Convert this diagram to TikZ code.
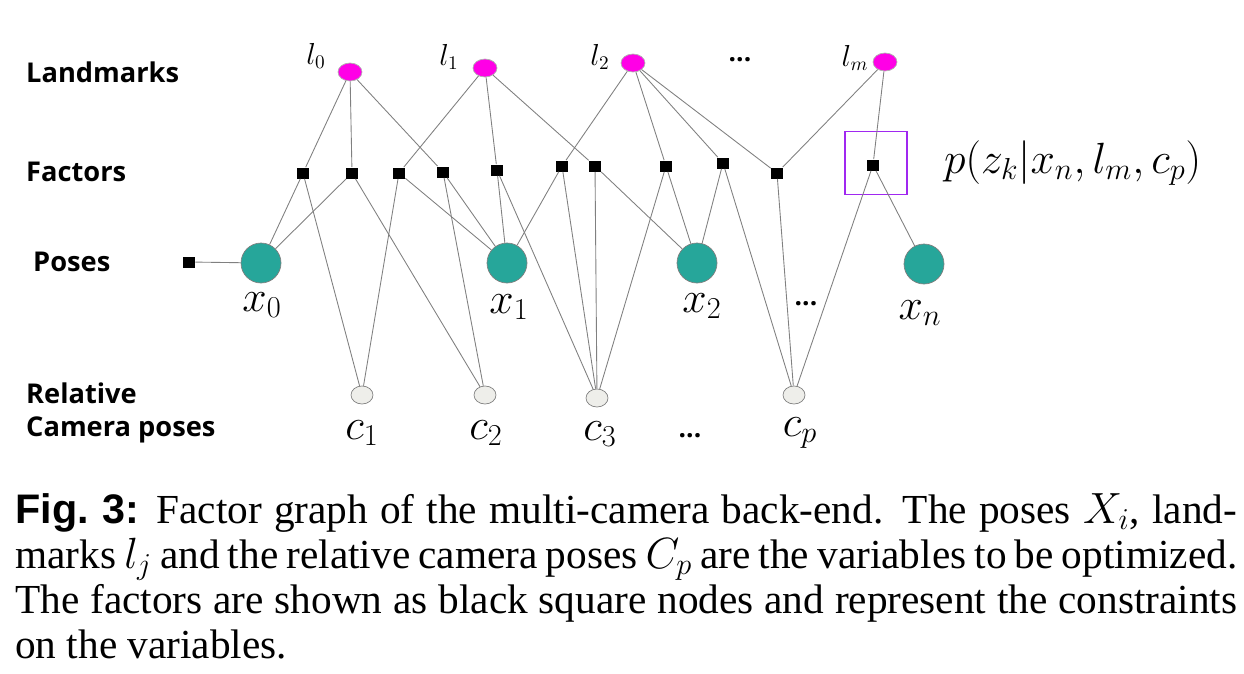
\documentclass[tikz,border=0pt]{standalone}
\usepackage{fontspec}
\setmainfont{Liberation Serif}
\newfontfamily\labelfont{Open Sans}
\newfontfamily\figfont{Liberation Sans}
\definecolor{landmark}{RGB}{255,0,230}
\definecolor{pose}{RGB}{38,166,154}
\definecolor{campose}{RGB}{238,238,234}
\definecolor{boxcol}{RGB}{160,40,240}
\newlength{\px}
\setlength{\px}{0.02cm}
\usetikzlibrary{shapes.geometric}
\tikzset{
  lmk/.style={ellipse,draw=gray!60,fill=landmark,minimum width=24\px,minimum height=18\px,inner sep=0pt},
  fac/.style={rectangle,fill=black,minimum width=12\px,minimum height=11\px,inner sep=0pt},
  posevar/.style={circle,draw=gray,fill=pose,minimum size=40\px,inner sep=0pt},
  cam/.style={ellipse,draw=gray,fill=campose,minimum width=22\px,minimum height=18\px,inner sep=0pt},
  side/.style={font=\labelfont\bfseries\fontsize{15.5}{19}\selectfont,anchor=west,align=left},
  big/.style={font=\fontsize{26}{26}\selectfont},
  small/.style={font=\fontsize{16}{16}\selectfont},
  dots/.style={font=\labelfont\bfseries\fontsize{15}{15}\selectfont},
  link/.style={draw=gray,line width=0.5pt}
}
\begin{document}
\begin{tikzpicture}[x=0.02cm,y=-0.02cm]
\useasboundingbox (0,0) rectangle (1244,673);
% row labels
\node[side] (tL) at (20,72) {Landmarks};
\node[side] (tF) at (20,172) {Factors};
\node[side] (tP) at (27,262) {Poses};
\node[side] (tC) at (20,413) {Relative\\Camera poses};
% landmarks
\node[lmk] (l0) at (350,72) {};
\node[lmk] (l1) at (485,68) {};
\node[lmk] (l2) at (633,63) {};
\node[lmk] (lm) at (885,62) {};
\node[small] at (316,56) {$l_0$};
\node[small] at (449,57) {$l_1$};
\node[small] at (600,57) {$l_2$};
\node[small] at (855,58) {$l_m$};
\node[dots] at (740,60) {...};
% factors
\node[fac] (f1) at (303,173) {};
\node[fac] (f2) at (352,173) {};
\node[fac] (f3) at (399,173) {};
\node[fac] (f4) at (443,172) {};
\node[fac] (f5) at (497,170) {};
\node[fac] (f6) at (562,166) {};
\node[fac] (f7) at (595,166) {};
\node[fac] (f8) at (666,166) {};
\node[fac] (f9) at (723,163) {};
\node[fac] (f10) at (777,173) {};
\node[fac] (f11) at (873,165) {};
\node[fac] (f0) at (189,262) {};
\node[draw=boxcol,line width=0.8pt,minimum width=62\px,minimum height=63\px] (box) at (876,163) {};
\node[big,anchor=west] (plab) at (938,163) {$p(z_k|x_n,l_m,c_p)$};
% poses
\node[posevar] (x0) at (261,263) {};
\node[posevar] (x1) at (507,263) {};
\node[posevar] (x2) at (697,263) {};
\node[posevar] (xn) at (924,264) {};
\node[big] at (262,305) {$x_0$};
\node[big] at (509,307) {$x_1$};
\node[big] at (702,306) {$x_2$};
\node[big] at (920,313) {$x_n$};
\node[dots] at (806,304) {...};
% camera poses
\node[cam] (c1) at (362,395) {};
\node[cam] (c2) at (485,395) {};
\node[cam] (c3) at (597,398) {};
\node[cam] (cp) at (794,395) {};
\node[big] at (362,433) {$c_1$};
\node[big] at (486,433) {$c_2$};
\node[big] at (600,434) {$c_3$};
\node[big] at (800,433) {$c_p$};
\node[dots] at (690,436) {...};
% connections
\foreach \a/\b in {l0/f1,l0/f2,l0/f4,l1/f3,l1/f5,l1/f7,l2/f6,l2/f8,l2/f9,l2/f10,lm/f10,lm/f11,
  f1/x0,f1/c1,f2/x0,f2/c2,f3/c1,f3/x1,f4/x1,f4/c2,f5/x1,f5/c3,f6/x1,f6/c3,f7/c3,f7/x2,
  f8/c3,f8/x2,f9/x2,f9/cp,f10/cp,f11/cp,f11/xn,f0/x0}
  \draw[link] (\a) -- (\b);
% caption
\node[anchor=north west,text width=1222\px,align=justify,inner sep=0pt,
  font=\fontsize{23.5}{25.6}\selectfont] (cap) at (15,493)
  {{\figfont\bfseries Fig.~3:} Factor graph of the multi-camera back-end. The poses $X_i$, land\-marks $l_j$ and the relative camera poses $C_p$ are the variables to be optimized. The factors are shown as black square nodes and represent the constraints on the variables.};
\end{tikzpicture}
\end{document}
